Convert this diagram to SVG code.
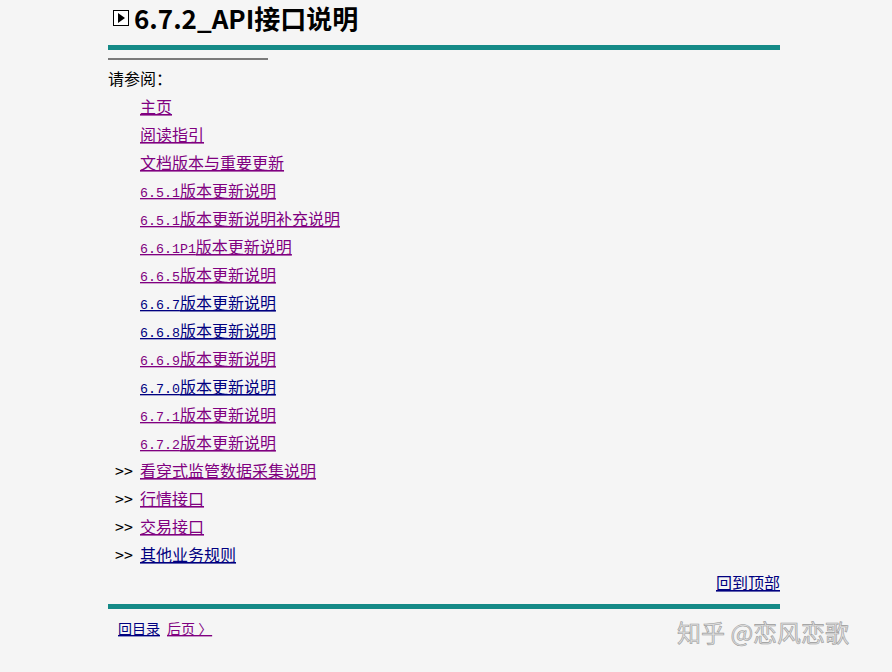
<svg xmlns="http://www.w3.org/2000/svg" width="892" height="672" viewBox="0 0 892 672">
<style>
text{font-family:"Noto Sans CJK SC","Liberation Sans",sans-serif;font-size:16px}
tspan.m{font-family:"Liberation Mono","Noto Sans CJK SC",monospace;font-size:13.3px}
.p{fill:#800080;text-decoration:underline}
.n{fill:#000080;text-decoration:underline}
.k{fill:#000}
</style>
<rect width="892" height="672" fill="#f5f5f5"/>
<g id="title">
<rect x="113.5" y="10.5" width="15" height="15" fill="#fff" stroke="#000"/>
<polygon points="118,13 118,23 125,18" fill="#000"/>
<text x="134" y="29" style="font-size:26px;font-weight:bold" class="k">6.7.2_API接口说明</text>
</g>
<rect x="108" y="45" width="672" height="5" fill="#158a87"/>
<rect x="108" y="58.5" width="160" height="1" fill="#000"/>
<text x="108" y="85" class="k">请参阅：</text>
<g id="links">
<text x="140" y="113" class="p">主页</text>
<text x="140" y="141" class="p">阅读指引</text>
<text x="140" y="169" class="p">文档版本与重要更新</text>
<text x="140" y="197" class="p"><tspan class="m">6.5.1</tspan>版本更新说明</text>
<text x="140" y="225" class="p"><tspan class="m">6.5.1</tspan>版本更新说明补充说明</text>
<text x="140" y="253" class="p"><tspan class="m">6.6.1P1</tspan>版本更新说明</text>
<text x="140" y="281" class="p"><tspan class="m">6.6.5</tspan>版本更新说明</text>
<text x="140" y="309" class="n"><tspan class="m">6.6.7</tspan>版本更新说明</text>
<text x="140" y="337" class="n"><tspan class="m">6.6.8</tspan>版本更新说明</text>
<text x="140" y="365" class="p"><tspan class="m">6.6.9</tspan>版本更新说明</text>
<text x="140" y="393" class="n"><tspan class="m">6.7.0</tspan>版本更新说明</text>
<text x="140" y="421" class="p"><tspan class="m">6.7.1</tspan>版本更新说明</text>
<text x="140" y="449" class="p"><tspan class="m">6.7.2</tspan>版本更新说明</text>
<text x="115" y="477" class="k">&gt;&gt;</text><text x="140" y="477" class="p">看穿式监管数据采集说明</text>
<text x="115" y="505" class="k">&gt;&gt;</text><text x="140" y="505" class="p">行情接口</text>
<text x="115" y="533" class="k">&gt;&gt;</text><text x="140" y="533" class="p">交易接口</text>
<text x="115" y="561" class="k">&gt;&gt;</text><text x="140" y="561" class="n">其他业务规则</text>
<text x="780" y="589" text-anchor="end" class="n">回到顶部</text>
</g>
<rect x="108" y="604" width="672" height="5" fill="#158a87"/>
<text x="118" y="634" class="n" style="font-size:14px">回目录</text>
<text x="167" y="634" class="p" style="font-size:14px">后页 〉</text>
<text x="677" y="642" style="font-size:24px;fill:#e0e0e0;stroke:#9a9a9a;stroke-width:0.6">知乎 @恋风恋歌</text>
</svg>
